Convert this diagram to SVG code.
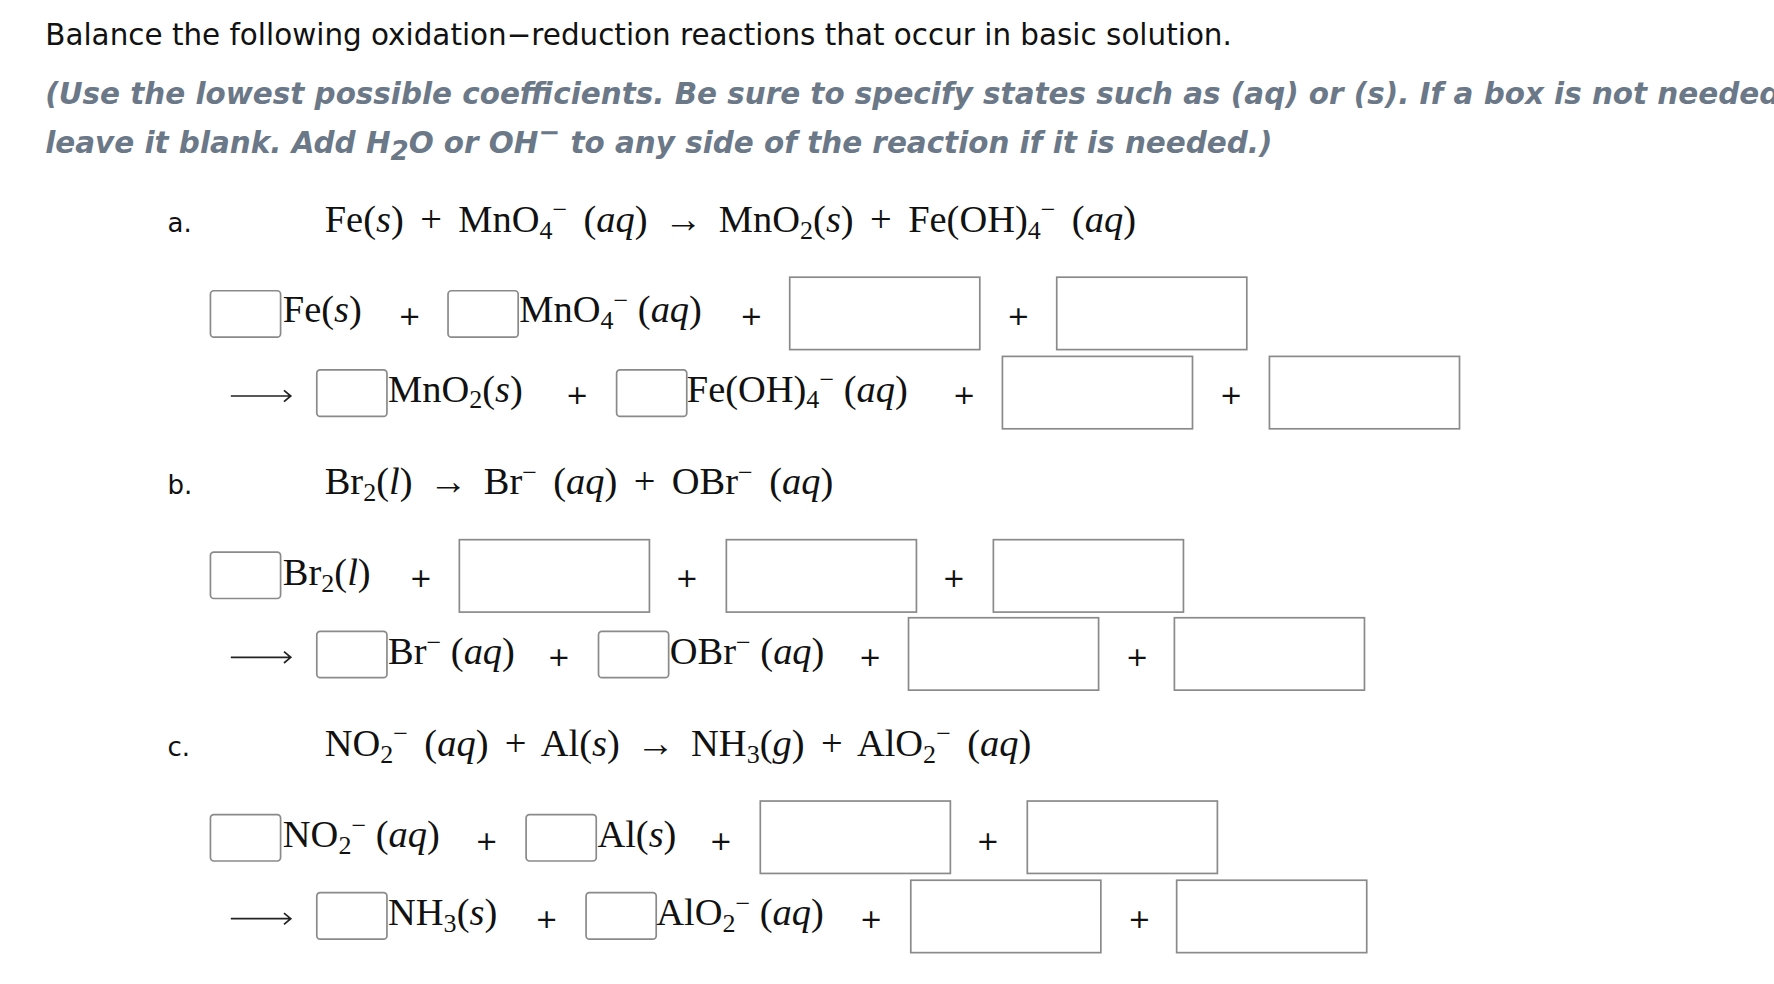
<svg xmlns="http://www.w3.org/2000/svg" width="1774" height="984" viewBox="0 0 1774 984">
<style>
.h{font-family:"DejaVu Sans",Verdana,sans-serif;font-size:26px;fill:#111}
.lb{font-family:"DejaVu Sans",Verdana,sans-serif;font-size:23px;fill:#111}
.n{font-family:"DejaVu Sans",Verdana,sans-serif;font-size:26px;font-weight:bold;font-style:italic;fill:#6b7888}
.e{font-family:"Liberation Serif","DejaVu Serif",serif;font-size:34px;fill:#111}
.w{word-spacing:6px}
.p{font-family:"DejaVu Sans",Verdana,sans-serif;font-size:24px;fill:#111}
.i{font-style:italic}
.sb{font-size:23px}
.sm{fill:#fff;stroke:#8a8a8a;stroke-width:1.5}
.bg{fill:#fff;stroke:#8a8a8a;stroke-width:1.5}
.ar{stroke:#222;stroke-width:1.5;fill:none}
</style>
<rect width="1774" height="984" fill="#fff"/>
<g transform="scale(1.1314)">
<g id="header">
<text class="h" x="40" y="40">Balance the following oxidation−reduction reactions that occur in basic solution.</text>
<text class="n" x="40" y="92">(Use the lowest possible coefficients. Be sure to specify states such as (aq) or (s). If a box is not needed</text>
<text class="n" x="40" y="135">leave it blank. Add H<tspan class="sb" dy="6">2</tspan><tspan dy="-6">O or OH</tspan><tspan class="sb" dy="-10">−</tspan><tspan dy="10"> to any side of the reaction if it is needed.)</tspan></text>
</g>
<g id="eq-a">
<text class="lb" x="148" y="205">a.</text>
<text class="e w" x="287" y="205">Fe(<tspan class="i">s</tspan>) + MnO<tspan class="sb" dy="6">4</tspan><tspan class="sb" dy="-18">−</tspan><tspan dy="12"> (</tspan><tspan class="i">aq</tspan>) → MnO<tspan class="sb" dy="6">2</tspan><tspan dy="-6">(</tspan><tspan class="i">s</tspan>) + Fe(OH)<tspan class="sb" dy="6">4</tspan><tspan class="sb" dy="-18">−</tspan><tspan dy="12"> (</tspan><tspan class="i">aq</tspan>)</text>
</g>
<g id="row-a1">
<rect class="sm" x="186" y="257" width="62" height="41" rx="3"/>
<text class="e" x="250" y="285">Fe(<tspan class="i">s</tspan>)</text>
<text class="p" x="352" y="287">+</text>
<rect class="sm" x="396" y="257" width="62" height="41" rx="3"/>
<text class="e" x="459" y="285">MnO<tspan class="sb" dy="6">4</tspan><tspan class="sb" dy="-18">−</tspan><tspan dy="12"> (</tspan><tspan class="i">aq</tspan>)</text>
<text class="p" x="654" y="287">+</text>
<rect class="bg" x="698" y="245" width="168" height="64"/>
<text class="p" x="890" y="287">+</text>
<rect class="bg" x="934" y="245" width="168" height="64"/>
</g>
<g id="row-a2">
<rect class="sm" x="280" y="327" width="62" height="41" rx="3"/>
<text class="e" x="343" y="355">MnO<tspan class="sb" dy="6">2</tspan><tspan dy="-6">(</tspan><tspan class="i">s</tspan>)</text>
<text class="p" x="500" y="357">+</text>
<rect class="sm" x="545" y="327" width="62" height="41" rx="3"/>
<text class="e" x="607" y="355">Fe(OH)<tspan class="sb" dy="6">4</tspan><tspan class="sb" dy="-18">−</tspan><tspan dy="12"> (</tspan><tspan class="i">aq</tspan>)</text>
<text class="p" x="842" y="357">+</text>
<rect class="bg" x="886" y="315" width="168" height="64"/>
<text class="p" x="1078" y="357">+</text>
<rect class="bg" x="1122" y="315" width="168" height="64"/>
</g>
<g id="eq-b">
<text class="lb" x="148" y="437">b.</text>
<text class="e w" x="287" y="437">Br<tspan class="sb" dy="6">2</tspan><tspan dy="-6">(</tspan><tspan class="i">l</tspan>) → Br<tspan class="sb" dy="-12">−</tspan><tspan dy="12"> (</tspan><tspan class="i">aq</tspan>) + OBr<tspan class="sb" dy="-12">−</tspan><tspan dy="12"> (</tspan><tspan class="i">aq</tspan>)</text>
</g>
<g id="row-b1">
<rect class="sm" x="186" y="488" width="62" height="41" rx="3"/>
<text class="e" x="250" y="517">Br<tspan class="sb" dy="6">2</tspan><tspan dy="-6">(</tspan><tspan class="i">l</tspan>)</text>
<text class="p" x="362" y="519">+</text>
<rect class="bg" x="406" y="477" width="168" height="64"/>
<text class="p" x="597" y="519">+</text>
<rect class="bg" x="642" y="477" width="168" height="64"/>
<text class="p" x="833" y="519">+</text>
<rect class="bg" x="878" y="477" width="168" height="64"/>
</g>
<g id="row-b2">
<rect class="sm" x="280" y="558" width="62" height="41" rx="3"/>
<text class="e" x="343" y="587">Br<tspan class="sb" dy="-12">−</tspan><tspan dy="12"> (</tspan><tspan class="i">aq</tspan>)</text>
<text class="p" x="484" y="589">+</text>
<rect class="sm" x="529" y="558" width="62" height="41" rx="3"/>
<text class="e" x="592" y="587">OBr<tspan class="sb" dy="-12">−</tspan><tspan dy="12"> (</tspan><tspan class="i">aq</tspan>)</text>
<text class="p" x="759" y="589">+</text>
<rect class="bg" x="803" y="546" width="168" height="64"/>
<text class="p" x="995" y="589">+</text>
<rect class="bg" x="1038" y="546" width="168" height="64"/>
</g>
<g id="eq-c">
<text class="lb" x="148" y="668">c.</text>
<text class="e w" x="287" y="668">NO<tspan class="sb" dy="6">2</tspan><tspan class="sb" dy="-18">−</tspan><tspan dy="12"> (</tspan><tspan class="i">aq</tspan>) + Al(<tspan class="i">s</tspan>) → NH<tspan class="sb" dy="6">3</tspan><tspan dy="-6">(</tspan><tspan class="i">g</tspan>) + AlO<tspan class="sb" dy="6">2</tspan><tspan class="sb" dy="-18">−</tspan><tspan dy="12"> (</tspan><tspan class="i">aq</tspan>)</text>
</g>
<g id="row-c1">
<rect class="sm" x="186" y="720" width="62" height="41" rx="3"/>
<text class="e" x="250" y="749">NO<tspan class="sb" dy="6">2</tspan><tspan class="sb" dy="-18">−</tspan><tspan dy="12"> (</tspan><tspan class="i">aq</tspan>)</text>
<text class="p" x="420" y="751">+</text>
<rect class="sm" x="465" y="720" width="62" height="41" rx="3"/>
<text class="e" x="528" y="749">Al(<tspan class="i">s</tspan>)</text>
<text class="p" x="627" y="751">+</text>
<rect class="bg" x="672" y="708" width="168" height="64"/>
<text class="p" x="863" y="751">+</text>
<rect class="bg" x="908" y="708" width="168" height="64"/>
</g>
<g id="row-c2">
<rect class="sm" x="280" y="789" width="62" height="41" rx="3"/>
<text class="e" x="343" y="818">NH<tspan class="sb" dy="6">3</tspan><tspan dy="-6">(</tspan><tspan class="i">s</tspan>)</text>
<text class="p" x="473" y="820">+</text>
<rect class="sm" x="518" y="789" width="62" height="41" rx="3"/>
<text class="e" x="580" y="818">AlO<tspan class="sb" dy="6">2</tspan><tspan class="sb" dy="-18">−</tspan><tspan dy="12"> (</tspan><tspan class="i">aq</tspan>)</text>
<text class="p" x="760" y="820">+</text>
<rect class="bg" x="805" y="778" width="168" height="64"/>
<text class="p" x="997" y="820">+</text>
<rect class="bg" x="1040" y="778" width="168" height="64"/>
</g>
<g id="connectors">
<path class="ar" d="M204 350H257M251 345L257 350L251 355"/>
<path class="ar" d="M204 581H257M251 576L257 581L251 586"/>
<path class="ar" d="M204 812H257M251 807L257 812L251 817"/>
</g>
</g>
</svg>
